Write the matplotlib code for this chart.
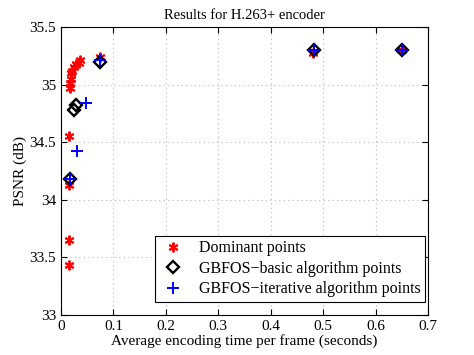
import numpy as np
import matplotlib
matplotlib.use("Agg")
import matplotlib.pyplot as plt

# Dominant points (red asterisks)
dom_time = [0.016, 0.016, 0.016, 0.016, 0.017, 0.018, 0.019, 0.020, 0.021,
            0.025, 0.029, 0.034, 0.036, 0.075, 0.480, 0.650]
dom_psnr = [33.43, 33.65, 34.13, 34.55, 34.97, 35.01, 35.05, 35.10, 35.12,
            35.15, 35.18, 35.19, 35.21, 35.24, 35.27, 35.30]

# GBFOS-basic algorithm points (black diamonds)
basic_time = [0.017, 0.025, 0.028, 0.075, 0.482, 0.651]
basic_psnr = [34.18, 34.78, 34.82, 35.20, 35.30, 35.30]

# GBFOS-iterative algorithm points (blue plus)
iter_time = [0.017, 0.031, 0.048, 0.075, 0.482, 0.651]
iter_psnr = [34.18, 34.42, 34.84, 35.21, 35.30, 35.30]

plt.rcParams['font.family'] = ['Liberation Serif', 'DejaVu Serif']

fig = plt.figure(figsize=(4.74, 3.55), dpi=100)
ax = fig.add_axes([61 / 474, 1 - 315 / 355, (428 - 61) / 474, (315 - 27) / 355])

ax.plot(dom_time, dom_psnr, linestyle='none', marker=(6, 2, 0), color='red',
        markersize=7, markeredgewidth=1.4, label='Dominant points')
ax.plot(basic_time, basic_psnr, linestyle='none', marker='D', markerfacecolor='none',
        markeredgecolor='black', markersize=6.5, markeredgewidth=1.7,
        label='GBFOS\u2212basic algorithm points')
ax.plot(iter_time, iter_psnr, linestyle='none', marker='+', color='blue',
        markersize=8, markeredgewidth=1.4,
        label='GBFOS\u2212iterative algorithm points')

ax.set_xlim(0, 0.7)
ax.set_ylim(33, 35.5)
ax.set_xticks(np.arange(0, 0.71, 0.1))
ax.set_xticklabels(['0', '0.1', '0.2', '0.3', '0.4', '0.5', '0.6', '0.7'])
ax.set_yticks(np.arange(33, 35.51, 0.5))
ax.set_yticklabels(['33', '33.5', '34', '34.5', '35', '35.5'])
ax.tick_params(direction='in', labelsize=11, length=4, top=True, right=True)
ax.grid(True, linestyle=(0, (1, 3)), color='#b8b8b8', linewidth=0.8)

ax.set_xlabel('Average encoding time per frame (seconds)', fontsize=11, labelpad=1)
ax.set_ylabel('PSNR (dB)', fontsize=11, labelpad=2)
ax.set_title('Results for H.263+ encoder', fontsize=10.5, pad=6)

leg = ax.legend(loc='lower right', bbox_to_anchor=(0.992, 0.045), fontsize=11.5,
                frameon=True, fancybox=False, edgecolor='black', framealpha=1,
                borderaxespad=0, handletextpad=0.8, borderpad=0.3,
                labelspacing=0.28, handlelength=1.6, numpoints=1)
leg.get_frame().set_linewidth(0.8)

fig.savefig('out.png', dpi=100)
